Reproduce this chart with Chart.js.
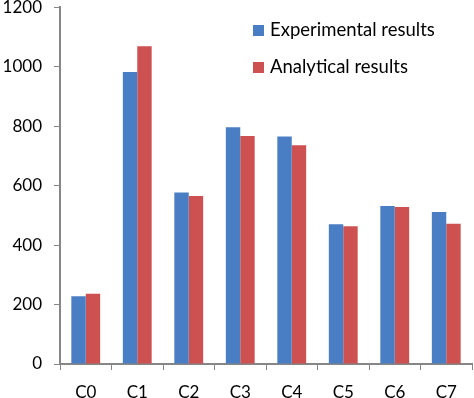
<!DOCTYPE html>
<html>
<head>
<meta charset="utf-8">
<script src="https://cdn.jsdelivr.net/npm/chart.js@4.4.1/dist/chart.umd.min.js"></script>
<style>
  html, body { margin: 0; padding: 0; background: #fff; overflow: hidden; }
  #outer { width: 474px; height: 398px; overflow: hidden; }
  #wrap { width: 474px; height: 413px; margin-top: -15px; }
</style>
</head>
<body>
<div id="outer"><div id="wrap"><canvas id="chart"></canvas></div></div>
<script>
// Chart data
const categories = ['C0', 'C1', 'C2', 'C3', 'C4', 'C5', 'C6', 'C7'];
const experimental = [228, 982, 577, 796, 765, 470, 531, 511];
const analytical = [236, 1069, 565, 767, 736, 463, 528, 472];
const yTicks = [0, 200, 400, 600, 800, 1000, 1200];

const FONT = 'Lato, "Open Sans", sans-serif';
const axisColor = '#868686';

// Legend drawn inside the plot area, top right, stacked vertically
const insideLegend = {
  id: 'insideLegend',
  afterDraw(chart) {
    const ctx = chart.ctx;
    ctx.save();
    ctx.font = '18.5px ' + FONT;
    ctx.textBaseline = 'middle';
    chart.data.datasets.forEach((ds, i) => {
      const y = 15 + 30 + i * 37;
      ctx.fillStyle = ds.backgroundColor;
      ctx.fillRect(253, y - 5, 11, 11);
      ctx.fillStyle = '#000';
      ctx.fillText(ds.label, 270, y);
    });
    ctx.restore();
  }
};

new Chart(document.getElementById('chart'), {
  type: 'bar',
  data: {
    labels: categories,
    datasets: [
      { label: 'Experimental results', data: experimental, backgroundColor: '#4A7EC4' },
      { label: 'Analytical results', data: analytical, backgroundColor: '#CD5150' }
    ]
  },
  options: {
    responsive: true,
    maintainAspectRatio: false,
    animation: false,
    categoryPercentage: 0.56,
    barPercentage: 1.0,
    layout: { padding: { top: 0, right: 2, bottom: 0, left: 0 } },
    plugins: {
      legend: { display: false },
      tooltip: { enabled: false }
    },
    scales: {
      x: {
        grid: { display: true, drawOnChartArea: false, drawTicks: true, tickLength: 6, color: axisColor, offset: true },
        border: { display: true, color: axisColor, width: 2 },
        ticks: { color: '#000', font: { family: FONT, size: 17 }, padding: 12 },
        afterFit(scale) { scale.height = 34; }
      },
      y: {
        min: 0,
        max: 1200,
        afterBuildTicks(scale) { scale.ticks = yTicks.map(v => ({ value: v })); },
        grid: { display: true, drawOnChartArea: false, drawTicks: true, tickLength: 6, color: axisColor },
        border: { display: true, color: axisColor, width: 2 },
        ticks: { color: '#000', font: { family: FONT, size: 17 }, padding: 12, callback: v => String(v) },
        afterFit(scale) { scale.width = 60; }
      }
    }
  },
  plugins: [insideLegend]
});
</script>
</body>
</html>
